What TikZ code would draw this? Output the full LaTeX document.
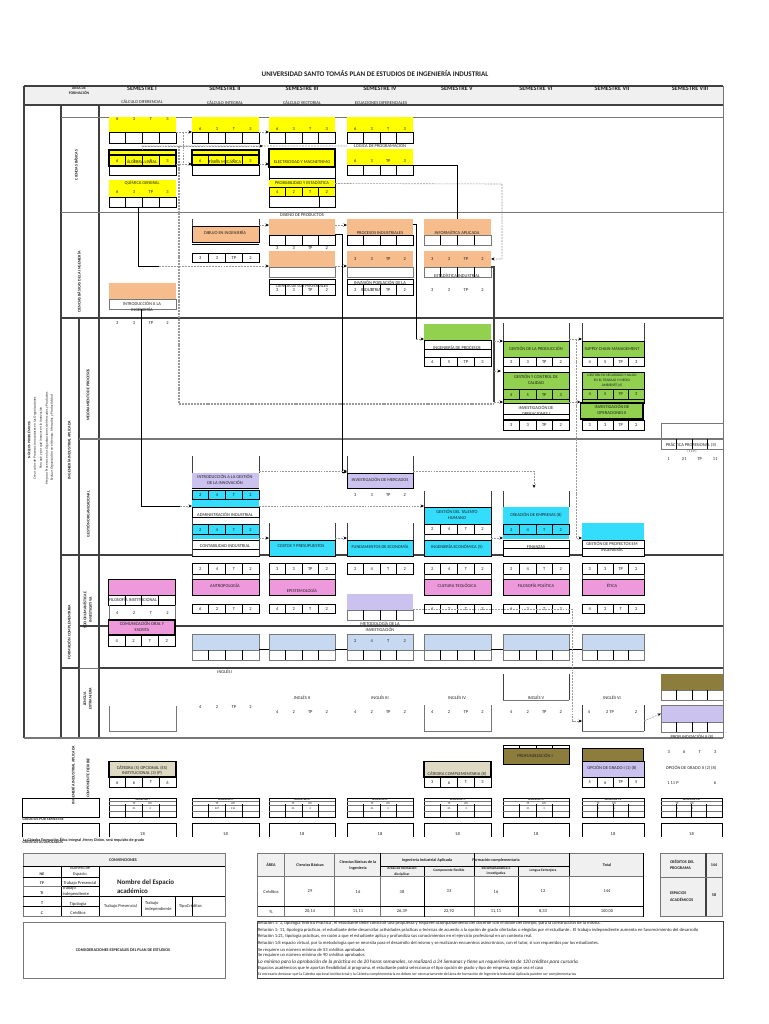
\documentclass[tikz,border=0pt]{standalone}
\usepackage{fontspec}
\setmainfont{Carlito}
\usetikzlibrary{arrows.meta,calc}
\definecolor{cyel}{HTML}{FFFF00}
\definecolor{cpea}{HTML}{F7BC8C}
\definecolor{cgre}{HTML}{92D050}
\definecolor{ccya}{HTML}{33DDFB}
\definecolor{cpin}{HTML}{EE99DC}
\definecolor{clil}{HTML}{CCC2F0}
\definecolor{cblu}{HTML}{C6D9F1}
\definecolor{coli}{HTML}{8C7D3C}
\definecolor{cbei}{HTML}{DDD9C3}
\definecolor{chea}{HTML}{F0F0F0}
\definecolor{txt}{HTML}{222222}
\definecolor{gln}{HTML}{777777}
\definecolor{dln}{HTML}{404040}
\definecolor{dsh}{HTML}{9A9A9A}
\tikzset{
 lbl/.style={inner sep=0pt,outer sep=0pt,align=center,text=txt,font=\fontsize{3.35}{4.4}\selectfont},
 lft/.style={lbl,anchor=west,align=left},
 boldl/.style={lbl,font=\fontsize{3.1}{4.4}\selectfont\bfseries},
 semt/.style={lbl,font=\fontsize{4.6}{5}\selectfont\bfseries},
 vert/.style={lbl,rotate=90,font=\fontsize{3}{4.2}\selectfont\bfseries},
 tiny/.style={lbl,font=\fontsize{2.2}{3}\selectfont},
 blk/.style={rectangle,draw=black,line width=0.55pt,inner sep=0pt,outer sep=0pt},
 gl/.style={line width=0.6pt,draw=gln},
 dl/.style={line width=1pt,draw=dln},
 sd/.style={line width=0.7pt,draw=dln},
 dc/.style={line width=0.45pt,draw=dsh,dashed,dash pattern=on 1.4pt off 0.8pt},
 dcx/.style={line width=0.9pt,draw=dsh,dashed,dash pattern=on 1.5pt off 0.7pt},
 bc/.style={line width=0.75pt,draw=black},
 tip/.style={-{Stealth[length=2.6pt,width=2.2pt,black]}},
}
\newcounter{nn}
\newcommand\lab[4][]{\stepcounter{nn}\node[lbl,#1] (n\thenn) at (#2,#3) {#4};}
\newcommand\blk[6][]{\node[blk,minimum width={(#5-#3)*0.75pt},minimum height={(#6-#4)*0.75pt},anchor=north west,#1] (#2) at (#3,#4) {};}
\newcommand\cellrow[5][]{\stepcounter{nn}\node[blk,minimum width={(#4-#2)*0.75pt},minimum height={(#5-#3)*0.75pt},anchor=north west,name=g\thenn,#1] at (#2,#3) {};
 \foreach \q in {0.25,0.5,0.75}{\draw[line width=0.55pt] ({#2+(#4-#2)*\q},#3) -- ({#2+(#4-#2)*\q},#5);}}
\newcommand\nums[8][]{\lab[#1]{{#2+(#3-#2)*0.125}}{#4}{#5}\lab[#1]{{#2+(#3-#2)*0.375}}{#4}{#6}\lab[#1]{{#2+(#3-#2)*0.625}}{#4}{#7}\lab[#1]{{#2+(#3-#2)*0.875}}{#4}{#8}}
\newcommand\gridn[9][]{\cellrow[#1]{#2}{#3}{#4}{#5}\nums{#2}{#4}{{(#3+#5)/2+0.5}}{#6}{#7}{#8}{#9}}
\newcommand\sides[5][]{\draw[sd,#1] (#2,#4) -- (#2,#5) (#3,#4) -- (#3,#5);}
\newcommand\sem[4]{%
 \cellsem{#1}{#2}
 \lab[tiny,font=\fontsize{2.2}{3}\selectfont\bfseries]{{(#1+#2)/2}}{800}{#3}
 \lab{{(#1+#2)/2}}{834}{18}}
\newcommand\cellsem[2]{%
 \stepcounter{nn}\node[blk,minimum width={(#2-#1)*0.75pt},minimum height={19*0.75pt},anchor=north west,name=g\thenn] at (#1,798) {};
 \draw[line width=0.35pt,gln] (#1,801.7) -- (#2,801.7) (#1,805) -- (#2,805) (#1,811) -- (#2,811);
 \draw[line width=0.55pt] ({#1+(#2-#1)*0.25},804) -- ({#1+(#2-#1)*0.25},817) ({#1+(#2-#1)*0.5},804) -- ({#1+(#2-#1)*0.5},817) ({#1+(#2-#1)*0.75},804) -- ({#1+(#2-#1)*0.75},817);
 \draw[line width=0.65pt] (#1,837) -- (#1,823) -- (#2,823) -- (#2,837);}
\begin{document}
\begin{tikzpicture}[x=0.75pt,y=-0.75pt]
\useasboundingbox (0,0) rectangle (768,1024);
\fill[white] (0,0) rectangle (768,1024);
% header
\fill[chea] (24,86) rectangle (723,105);
\draw[dl] (24,86) -- (723,86);
\draw[dl] (24,105) -- (723,105);
\draw[gl] (723,86) -- (723,738);
\draw[dl] (24,86) -- (24,738);
\draw[dl] (61,105) -- (61,738);
\draw[dl] (99,105) -- (99,738);
\draw[dl] (79,318) -- (79,738);
\draw[gl] (61,117) -- (723,117);
\draw[gl] (61,212) -- (723,212);
\draw[dl] (61,318) -- (723,318);
\draw[gl,line width=.9pt] (79,439) -- (723,439);
\draw[line width=1.5pt,dln] (61,555) -- (723,555);
\draw[dl] (79,626) -- (723,626);
\draw[dl] (61,668) -- (79,668) (99,668) -- (723,668);
\draw[gl] (79,668) -- (99,668);
\draw[gl,line width=.9pt] (24,738) -- (723,738);
\lab[font=\fontsize{5.3}{6}\selectfont\bfseries]{375}{74}{UNIVERSIDAD SANTO TOMÁS PLAN DE ESTUDIOS DE INGENIERÍA INDUSTRIAL}
\lab[boldl,font=\fontsize{2.9}{3.9}\selectfont\bfseries]{79}{90.5}{ÁREA DE\\FORMACIÓN}
\lab[semt]{142}{88.5}{SEMESTRE I}
\lab[semt]{225}{88.5}{SEMESTRE II}
\lab[semt]{302}{88.5}{SEMESTRE III}
\lab[semt]{380}{88.5}{SEMESTRE IV}
\lab[semt]{457}{88.5}{SEMESTRE V}
\lab[semt]{536}{88.5}{SEMESTRE VI}
\lab[semt]{612}{88.5}{SEMESTRE VII}
\lab[semt]{690}{88.5}{SEMESTRE VIII}
\lab{142}{102}{CÁLCULO DIFERENCIAL}
\lab{225}{103}{CÁLCULO INTEGRAL}
\lab{302}{103}{CÁLCULO VECTORIAL}
\lab{381}{103}{ECUACIONES DIFERENCIALES}
% Ciencias basicas row 1
\blk[fill=cyel,draw=none]{calcd}{109}{117}{176}{132}
\cellrow{109}{132}{176}{143}
\nums{109}{176}{119}{6}{3}{T}{3}
\blk[fill=cyel,draw=none]{calci}{192}{117}{259}{132}
\cellrow{192}{132}{259}{143}
\nums{192}{259}{129}{6}{3}{T}{3}
\blk[fill=cyel,draw=none]{calcv}{269}{117}{335}{132}
\cellrow{269}{132}{335}{143}
\nums{269}{335}{129}{6}{3}{T}{3}
\blk[fill=cyel,draw=none]{ecua}{347}{117}{413}{132}
\cellrow{347}{132}{413}{143}
\nums{347}{413}{129}{6}{3}{T}{3}
\lab{380}{145.7}{LÓGICA DE PROGRAMACIÓN}
% row 2
\blk[fill=white]{algw}{109}{150}{176}{175}
\blk[fill=cyel,line width=.8pt]{alg}{109}{150}{176}{166}
\cellrow[line width=.8pt,fill=cyel]{109}{155}{176}{166}
\nums{109}{176}{161}{6}{3}{T}{3}
\lab{142}{162}{ÁLGEBRA LINEAL}
\blk[fill=white]{fisw}{192}{150}{259}{175}
\blk[fill=cyel,line width=.8pt]{fis}{192}{150}{259}{165}
\cellrow[line width=.8pt,fill=cyel]{192}{155}{259}{165}
\nums{192}{259}{161}{6}{3}{T}{3}
\lab{225}{162}{FÍSICA MECÁNICA}
\blk[fill=white]{elw}{269}{149}{335}{178}
\blk[fill=cyel,line width=.8pt]{elec}{269}{149}{335}{167}
\lab{302}{162.5}{ELECTRICIDAD Y MAGNETISMO}
\blk[fill=cyel,draw=none]{logi}{347}{149}{413}{165}
\cellrow{347}{165}{413}{175}
\nums{347}{413}{161}{6}{3}{TP}{3}
% row 3
\blk[fill=cyel,draw=none]{quim}{109}{180}{176}{197}
\cellrow[name=qg]{109}{197}{176}{207}
\lab{142}{183}{QUÍMICA GENERAL}
\nums{109}{176}{192}{6}{3}{TP}{3}
\blk[fill=white]{prbw}{269}{178}{335}{207}
\blk[fill=cyel,draw=none]{prob}{269}{180}{335}{187}
\cellrow[fill=cyel,line width=.7pt]{269}{187}{335}{196}
\draw[line width=.55pt] (319,196) -- (319,207);
\lab{302}{183}{PROBABILIDAD Y ESTADÍSTICA}
\nums{269}{335}{192}{4}{2}{T}{2}
% Ciencias basicas de la ingenieria
\blk[fill=cpea,draw=none]{intro}{109}{283}{176}{299}
\blk[fill=white,draw=gln]{introg}{109}{299}{176}{309}
\lab{142}{307}{INTRODUCCIÓN A LA\\INGENIERÍA}
\nums{109}{176}{323}{3}{3}{TP}{2}
\sides{192}{259}{219}{226}
\blk[fill=cpea,line width=.7pt]{dib}{192}{226}{259}{242}
\draw[line width=.55pt] (192,244) -- (259,244);
\lab{225}{233}{DIBUJO EN INGENIERÍA}
\gridn{192}{253}{259}{262}{3}{3}{TP}{2}
\lab{302}{215}{DISEÑO DE PRODUCTOS}
\blk[fill=cpea,draw=none]{dis}{269}{219}{335}{235}
\cellrow{269}{235}{335}{245}
\nums{269}{335}{248.5}{3}{3}{TP}{2}
\blk[fill=white,draw=gln]{ciew}{269}{267}{335}{277}
\blk[fill=cpea,draw=none]{cie}{269}{250.5}{335}{267}
\blk[fill=white]{cier}{269}{279}{335}{295}
\cellrow{269}{284}{335}{295}
\lab{302}{286.5}{CIENCIA DE LOS MATERIALES}
\nums{269}{335}{290}{3}{3}{TP}{2}
\blk[fill=cpea,draw=none]{pro}{347}{219}{413}{235}
\cellrow{347}{235}{413}{245}
\lab{380}{233}{PROCESOS INDUSTRIALES}
\blk[fill=white,draw=gln]{modw}{347}{267}{413}{277}
\blk[fill=cpea,draw=none]{mod}{347}{250.5}{413}{267}
\nums{347}{413}{259}{3}{3}{TP}{2}
\blk[fill=white]{modr}{347}{279}{413}{295}
\cellrow{347}{284}{413}{295}
\lab{380}{282.5}{INVASIÓN POBLACIÓN DE LA}
\nums{347}{413}{290}{3}{3}{TP}{2}
\lab{371}{290}{INDUSTRIA}
\blk[fill=cpea,draw=none]{info}{424}{219}{491}{235}
\cellrow[draw=gln]{424}{235}{491}{245}
\lab{457}{232.5}{INFORMÁTICA APLICADA}
\blk[fill=cpea,draw=none]{est}{424}{251}{491}{267}
\nums{424}{491}{259}{3}{3}{TP}{2}
\cellrow[draw=gln,name=estg]{424}{267}{491}{277}
\lab{457}{275.5}{ESTADÍSTICA INDUSTRIAL}
\nums{424}{491}{290}{3}{3}{TP}{2}
% Mejoramiento de procesos
\blk[fill=cgre,draw=none]{ingp}{424}{324}{491}{340}
\blk[fill=white]{ingw}{424}{340}{491}{357}
\draw[line width=.55pt] (424,349) -- (491,349);
\lab{457}{348}{INGENIERÍA DE PROCESOS}
\gridn{424}{357}{491}{366}{4}{5}{TP}{3}
\sides{503}{569}{323}{341}
\blk[fill=cgre,line width=.7pt]{gprod}{503}{341}{569}{357}
\lab{536}{349}{GESTIÓN DE LA PRODUCCIÓN}
\gridn{503}{357}{569}{366}{3}{3}{TP}{2}
\draw[line width=.55pt] (503,366) -- (503,372) (569,366) -- (569,372);
\blk[fill=cgre,line width=.7pt]{gcal}{503}{372}{569}{403}
\lab{536}{380}{GESTIÓN Y CONTROL DE\\CALIDAD}
\cellrow[fill=cgre,line width=.7pt]{503}{389}{569}{399}
\nums{503}{569}{395}{4}{5}{TP}{3}
\blk[fill=white,line width=.7pt]{inv1}{503}{403}{569}{419}
\draw[line width=.55pt] (503,414) -- (569,414);
\lab{536}{410.5}{INVESTIGACIÓN DE\\OPERACIONES I}
\gridn{503}{420}{569}{430}{3}{3}{TP}{2}
\sides{582}{644}{323}{341}
\blk[fill=cgre,draw=black]{scm}{582}{341}{644}{357}
\lab{612}{349}{SUPPLY CHAIN MANAGEMENT}
\gridn{582}{357}{644}{366}{4}{5}{TP}{3}
\blk[fill=cgre,line width=.7pt]{seg}{582}{372}{644}{403}
\lab[font=\fontsize{2.7}{3.9}\selectfont]{612}{380}{GESTIÓN EN SEGURIDAD Y SALUD\\EN EL TRABAJO Y MEDIO\\AMBIENTE (6)}
\gridn{582}{389}{644}{399}{4}{5}{TP}{3}
\blk[fill=cgre,line width=.8pt]{inv2}{580.5}{403}{643}{419}
\lab{612}{410}{INVESTIGACIÓN DE\\OPERACIONES II}
\gridn{582}{420}{644}{430}{3}{3}{TP}{2}
\draw[line width=.4pt,gln] (723,423) -- (661,423) -- (661,449) -- (723,449);
\cellrow[draw=gln]{661}{439}{723}{449}
\lab{691}{445}{PRÁCTICA PROFESIONAL (II)}
\lab[tiny]{692}{451.5}{( 1 C P )}
\nums{661}{723}{459}{1}{21}{TP}{11}
% Gestion organizacional
\sides{192}{259}{456}{473}
\blk[fill=clil,draw=none]{inno}{192}{473}{259}{488}
\lab{225}{480}{INTRODUCCIÓN A LA GESTIÓN\\DE LA INNOVACIÓN}
\blk[fill=ccya,draw=none]{innc}{192}{490}{259}{507}
\cellrow[line width=.7pt,fill=ccya]{192}{490}{259}{499}
\nums{192}{259}{495.5}{2}{4}{T}{2}
\draw[line width=.55pt] (192,488) -- (259,488);
\blk[fill=white,draw=black]{admw}{192}{507}{259}{517.5}
\lab{225}{515}{ADMINISTRACIÓN INDUSTRIAL}
\blk[fill=ccya,draw=none]{admc}{192}{524}{259}{539}
\cellrow[line width=.7pt,fill=ccya]{192}{524}{259}{534}
\nums{192}{259}{530.5}{2}{4}{T}{2}
\blk[fill=white,line width=.7pt]{cont}{192}{540}{259}{556}
\draw[line width=.55pt] (192,549) -- (259,549);
\lab{225}{546.5}{CONTABILIDAD INDUSTRIAL}
\sides{192}{192}{517.5}{556}
\sides{259}{259}{517.5}{556}
\sides{269}{335}{523}{540}
\blk[fill=ccya,line width=.7pt]{cost}{269}{540}{335}{556}
\lab{301}{546.5}{COSTOS Y PRESUPUESTOS}
\sides{347}{413}{456}{473}
\blk[fill=clil,line width=.55pt]{merc}{347}{473}{413}{488}
\lab{380}{480}{INVESTIGACIÓN DE MERCADOS}
\nums{347}{413}{495}{3}{3}{TP}{2}
\sides{347}{413}{523}{540}
\blk[fill=ccya,line width=.7pt]{fund}{347}{540}{413}{556}
\lab{380}{546.5}{FUNDAMENTOS DE ECONOMÍA}
\sides{424}{491}{491}{507}
\blk[fill=ccya,line width=.55pt]{tal}{424}{507}{491}{524}
\lab{457}{515}{GESTIÓN DEL TALENTO\\HUMANO}
\gridn{424}{524}{491}{534}{2}{4}{T}{2}
\sides{424}{491}{534}{540}
\blk[fill=ccya,line width=.7pt]{ingec}{424}{540}{491}{556}
\lab{457}{546.5}{INGENIERÍA ECONÓMICA (5)}
\sides{503}{569}{491}{507}
\blk[fill=ccya,draw=none]{crea}{503}{507}{569}{539}
\lab{536}{515}{CREACIÓN DE EMPRESAS (8)}
\cellrow[fill=ccya,line width=.7pt]{503}{524}{569}{534}
\nums{503}{569}{530.5}{2}{4}{T}{2}
\blk[fill=white,line width=.7pt]{fin}{503}{540}{569}{556}
\draw[line width=.55pt] (503,548) -- (569,548);
\lab{536}{547}{FINANZAS}
\blk[fill=ccya,draw=none]{gpc}{582}{522.5}{644}{540}
\blk[fill=white,line width=.55pt]{gpro}{582}{540}{644}{556}
\draw[line width=.55pt] (582,548) -- (644,548);
\lab{612}{547}{GESTIÓN DE PROYECTOS EM\\INGENIERÍA}
% Sociohumanistica grids
\gridn{192}{563}{259}{574}{2}{4}{T}{2}
\gridn{269}{563}{335}{574}{3}{3}{TP}{2}
\gridn{347}{563}{413}{574}{2}{4}{T}{2}
\gridn{424}{563}{491}{574}{2}{4}{T}{2}
\gridn{503}{563}{569}{574}{2}{4}{T}{2}
\gridn{582}{563}{644}{574}{3}{3}{TP}{2}
\sides{192}{259}{574}{579}
\sides{269}{335}{574}{579}
\sides{424}{491}{574}{579}
\sides{503}{569}{574}{579}
\sides{582}{644}{574}{579}
\blk[fill=cpin,line width=.7pt]{antro}{192}{579}{259}{595}
\lab{225}{585.5}{ANTROPOLOGÍA}
\blk[fill=cpin,line width=.7pt]{epi}{269}{579}{335}{595}
\lab{302}{591}{EPISTEMOLOGÍA}
\blk[fill=cpin,line width=.7pt]{cult}{424}{579}{491}{595}
\lab{457}{585.5}{CULTURA TEOLÓGICA}
\blk[fill=cpin,line width=.7pt]{filo}{503}{579}{569}{595}
\lab{536}{585.5}{FILOSOFÍA POLÍTICA}
\blk[fill=cpin,line width=.7pt]{etica}{582}{579}{644}{595}
\lab{612}{585.5}{ÉTICA}
\gridn{192}{604}{259}{613}{6}{2}{T}{2}
\gridn{269}{604}{335}{613}{4}{2}{T}{2}
\gridn{424}{604}{491}{613}{6}{2}{T}{2}
\gridn{503}{604}{569}{613}{6}{2}{T}{2}
\gridn{582}{604}{644}{613}{4}{2}{T}{2}
\blk[fill=clil,draw=none]{met}{347}{594}{413}{610}
\cellrow[draw=gln,name=metg]{347}{610}{413}{620}
\lab{380}{626.5}{METODOLOGÍA DE LA\\INVESTIGACIÓN}
\blk[fill=cpin,line width=.7pt]{filin}{108.5}{579}{175}{595}
\cellrow{108.5}{595}{175}{605}
\lab{133}{600}{FILOSOFÍA INSTITUCIONAL}
\draw[line width=.35pt,gln] (109,605) -- (109,620) (175,605) -- (175,620);
\nums{109}{176}{613}{4}{2}{T}{2}
\blk[fill=cpin,line width=.8pt]{com}{108.5}{620}{175}{635}
\lab{142}{626.5}{COMUNICACIÓN ORAL Y\\ESCRITA}
\gridn{108.5}{635}{175}{646}{4}{2}{T}{2}
% blue row
\foreach \xa/\xb/\nm in {192/259/b2,269/335/b3,347/413/b4,424/491/b5,503/569/b6,582/644/b7}{
 \blk[fill=cblu,draw=gln]{\nm}{\xa}{634}{\xb}{650}
 \cellrow[draw=gln]{\xa}{650}{\xb}{660}
}
\nums{347}{413}{641}{2}{4}{T}{2}
\draw[bc] (b2.south east) ++(0,-1) -- (b3.south west |- 0,649);
\draw[bc] (b3.south east) ++(0,-1) -- (b4.south west |- 0,649);
\draw[gl,line width=.35pt] (b4.south east) -- (b5.south west);
\draw[bc] (b5.south east) ++(0,-1) -- (b6.south west |- 0,649);
\draw[bc] (b6.south east) ++(0,-1) -- (b7.south west |- 0,649);
% Lengua extranjera
\draw[gl] (109,706) -- (109,731) -- (176,731) -- (176,706);
\lab{225}{672}{INGLÉS I}
\nums{192}{259}{707.5}{4}{2}{TP}{2}
\lab{302}{698}{INGLÉS II}
\nums{269}{335}{712.5}{4}{2}{TP}{2}
\lab{380}{698}{INGLÉS III}
\nums{347}{413}{712.5}{4}{2}{TP}{2}
\lab{457}{698}{INGLÉS IV}
\draw[gl] (424,705) -- (424,731) -- (491,731) -- (491,705);
\nums{424}{491}{712.5}{4}{2}{TP}{2}
\draw[sd] (503,674) -- (503,700) (569,674) -- (569,700);
\draw[gl] (503,700) -- (569,700);
\lab{536}{698}{INGLÉS V}
\nums{503}{569}{712.5}{4}{2}{TP}{2}
\lab{612}{698}{INGLÉS VI}
\coordinate (in6w) at (582,721);
\draw[sd] (582,705) -- (582,731);
\draw[sd] (644,705) -- (644,731);
\draw[gl] (582,731) -- (644,731);
\lab{589}{712.5}{4}
\lab{610}{712.5}{2 TP}
\lab{636}{712.5}{2}
\blk[fill=coli,draw=none]{p2}{661}{674}{723}{690}
\cellrow[draw=gln]{661}{690}{723}{700}
\blk[fill=clil,draw=gln]{o2}{661}{705}{723}{722}
\cellrow[draw=gln]{661}{722}{723}{732}
\lab{692}{737}{PROFUNDIZACIÓN II (8)}
\nums{661}{723}{752}{3}{6}{T}{3}
\lab{691}{768}{OPCIÓN DE GRADO II (2) (8)}
\lab{673}{783}{1 11 P}
\lab{715}{783}{6}
% Flexible row
\cellrow{503}{745}{569}{748}
\blk[fill=coli,line width=.7pt]{pf1}{503}{748}{569}{764}
\lab{535}{756}{PROFUNDIZACIÓN I}
\blk[fill=coli,line width=.55pt]{og1t}{582}{748}{643}{761}
\blk[fill=clil,line width=.7pt]{og1}{582}{761}{644}{777}
\lab{612}{768}{OPCIÓN DE GRADO I (1) (8)}
\gridn{582}{777}{644}{787}{5}{6}{TP}{5}
\blk[fill=cbei,line width=.8pt]{cat}{109}{761.5}{176}{777}
\lab{142}{770.5}{CÁTEDRA (S) OPCIONAL (ES)\\INSTITUCIONAL (3) (P)}
\gridn{109}{777}{176}{787}{6}{6}{T}{6}
\blk[fill=cbei,line width=.8pt]{catc}{424}{761.5}{491}{777}
\lab{457}{773.5}{CÁTEDRA COMPLEMENTARIA (8)}
\gridn{424}{777}{491}{787}{3}{6}{T}{3}
% Semester totals
\draw[line width=.65pt] (22.5,798) rectangle (99,817);
\draw[line width=.65pt] (22.5,837) -- (22.5,823) -- (99,823) -- (99,837);
\lab[lft,font=\fontsize{2.9}{3.9}\selectfont\bfseries]{22.5}{818.5}{CRÉDITOS POR SEMESTRE}
\sem{109}{176}{SEMESTRE I}{}
\sem{192}{259}{SEMESTRE II}{}
\sem{269}{335}{SEMESTRE III}{}
\sem{347}{413}{SEMESTRE IV}{}
\sem{424}{491}{SEMESTRE V}{}
\sem{503}{569}{SEMESTRE VI}{}
\sem{582}{644}{SEMESTRE VII}{}
\sem{661}{722}{SEMESTRE VIII}{}
\foreach \xx/\xy/\a/\b/\c in {134/150/21/3/18, 217/233/327/113/, 293/310/21/3/18,372/388/21/3/18,449/466/21/3/18,528/544/21/3/18,598/614/3/6/6,677/692/5/8/5}{
 \lab[tiny]{\xx}{803.5}{TP}
 \lab[tiny]{\xy}{803.5}{HTI}
 \lab[tiny]{\xx}{808.5}{\a}
 \lab[tiny]{\xy}{808.5}{\b}
}
\lab[lft,font=\fontsize{3}{4}\selectfont\bfseries]{23}{840}{La Cátedra Formación Ética Integral ,Henry Didón, será requisito de grado}
\lab[lft,font=\fontsize{2.9}{3.9}\selectfont\bfseries]{22.5}{841.5}{CRÉDITOS ACUMULADOS}
% Left vertical labels
\lab[vert]{76}{165}{CIENCIAS BÁSICAS}
\lab[vert]{79}{282}{CIENCIAS BÁSICAS DE LA INGENIERÍA}
\lab[vert]{88}{395}{MEJORAMIENTO DE PROCESOS}
\lab[vert]{88}{514}{GESTIÓN ORGANIZACIONAL}
\lab[vert]{69}{450}{INGENIERÍA INDUSTRIAL APLICADA}
\lab[vert]{87.5}{610}{SOCIOHUMANÍSTICA E\\INVESTIGATIVA}
\lab[vert]{69}{632}{FORMACIÓN COMPLEMENTARIA}
\lab[vert]{87.5}{699}{LENGUA\\EXTRANJERA}
\lab[vert]{73}{775}{INGENIERÍA INDUSTRIAL APLICADA}
\lab[vert]{88}{778}{COMPONENTE FLEXIBLE}
\lab[vert,font=\fontsize{2.7}{3.5}\selectfont\bfseries]{29}{440}{NÚCLEOS PROBLÉMICOS}
\lab[rotate=90,font=\fontsize{2.6}{3.5}\selectfont]{35}{438}{Crear valor de Procesos Innovadores en las Organizaciones}
\lab[rotate=90,font=\fontsize{2.6}{3.5}\selectfont]{41}{438}{Para qué y por qué innovar en la Innovación}
\lab[rotate=90,font=\fontsize{2.6}{3.5}\selectfont]{47}{438}{Mejorar Procesos en las Organizaciones de Mercados y Productos}
\lab[rotate=90,font=\fontsize{2.6}{3.5}\selectfont]{52}{438}{Evaluar Organización en el tiempo, Mercados y Productividad}
% Connectors
\draw[dc,tip] (calcd.south east) -- (calci.south west);
\draw[dc,tip] (calci.south east) -- (calcv.south west);
\draw[dc,tip] (alg.south east) ++(0,-2) -- (fis.south west |- 0,164);
\draw[dc,tip] (fis.south east) ++(0,-1) -- (elec.south west |- 0,164);
\coordinate (v1) at (183,132);\coordinate (v2) at (183,164);
\draw[dc] (v1) -- (v2);
\coordinate (lg) at (142,146);
\draw[dc] (alg.north) -- (lg) -- (lg -| ecua.west);
\coordinate (lt) at (263,146);
\draw[dc,tip] (lg) -- (lt);
\coordinate (g1) at (179,146);\coordinate (g2) at (179,404);\coordinate (g3) at (494,404);
\draw[dcx] (g1) -- (g2) -- (g3);
\coordinate (k0) at (138,207);\coordinate (k1) at (138,266);\coordinate (k2) at (159,266);
\draw[bc] (k0) -- (k1) -- (k2);
\draw[dc,tip] (k2) -- (k2 -| cie.west);
\draw[dc,tip] (k2 -| cie.east) -- (k2 -| mod.west);
\coordinate (k3) at (141.5,309);\coordinate (k4) at (141.5,506);\coordinate (k5) at (180,506);
\draw[bc] (k3) -- (k4) -- (k5);
\draw[dc,tip] (k5) -- (k5 -| innc.west);
\draw[dc,tip] (k5 -| innc.east) -- (k5 -| tal.west);
\draw[dc,tip] (dib.north east) ++(0,-1) -- (dis.west |- 0,225);
\draw[dc,tip] (dis.east |- 0,225) -- (pro.west |- 0,225);
\coordinate (l0) at (335,234);\coordinate (l1) at (342,234);\coordinate (l2) at (342,472);
\draw[bc,tip] (l0) -- (l1) -- (l2) -- (merc.north west |- l2);
\coordinate (m1) at (416,224);\coordinate (m2) at (416,339);
\draw[bc] (pro.east |- m1) -- (m1) -- (m2);
\draw[dc,tip] (m2) -- (ingp.west |- m2);
\draw[bc] (logi.south east) -- (logi.south east -| info.north) -- (info.north);
\coordinate (pe) at (502,184);\coordinate (pf) at (502,259);
\draw[dc,tip] (prob.east) -- (pe) -- (pf) -- (est.east);
\coordinate (q0) at (494,267);\coordinate (q1) at (494,402);
\draw[bc,line width=.9pt,dln] (est.south east) -- (q0) -- (q1);
\draw[dc,tip] (q1) -- (inv1.north west |- q1);
\draw[dc,tip] (q0 |- gprod.north) -- (gprod.north west);
\coordinate (q2) at (494,371);\coordinate (q3) at (501,371);
\draw[dc,tip] (q2) -- (q3);
\coordinate (r1) at (576.5,339);\coordinate (r2) at (576.5,538);
\draw[dc,tip] (gprod.north east |- r1) -- (scm.north west |- r1);
\draw[dcx,line width=.6pt] (r1) -- (r2);
\draw[dc,tip] (r2) -- (gpc.west |- r2);
\draw[dc,tip] (inv1.north east |- 0,402) -- (inv2.north west |- 0,402);
\coordinate (s1) at (259,471);
\draw[dc,tip] (s1) -- (merc.north west |- s1);
\coordinate (s2) at (413,471);\coordinate (s3) at (534,471);\coordinate (s4) at (534,488);
\draw[dc,tip] (s2) -- (s3) -- (s4);
\draw[dc,tip] (cost.north east |- 0,538) -- (fund.north west |- 0,538);
\draw[dc,tip] (cont.north east |- 0,538) -- (cost.north west |- 0,538);
\draw[dc,tip] (tal.east |- 0,538) -- (fin.north west |- 0,538);
\coordinate (u1) at (413,609);\coordinate (u2) at (572.5,609);\coordinate (u3) at (572.5,721);
\draw[dc,tip] (u1) -- (u2) -- (u3) -- (in6w);
\coordinate (u4) at (644,721);
\draw[dc,tip] (u4) -- (o2.west);
% Conventions
\fill[chea] (23,853) rectangle (225,866);
\draw[line width=.55pt,gln] (23,853) rectangle (225,916);
\draw[line width=.55pt] (23,866) -- (225,866);
\lab[boldl]{123}{860}{CONVENCIONES}
\draw[line width=.55pt] (61.5,866) -- (61.5,916) (99,866) -- (99,916);
\draw[line width=.55pt] (23,877) -- (99,877);
\draw[line width=.4pt,gln] (23,886.7) -- (61.5,886.7);
\draw[line width=.55pt] (61.5,886.7) -- (99,886.7) (23,896) -- (225,896);
\draw[line width=.55pt] (23,906) -- (99,906);
\draw[line width=.55pt] (141.5,896) -- (141.5,916) (175,896) -- (175,916) (192,896) -- (192,916);
\lab[font=\fontsize{3}{4}\selectfont\bfseries]{42}{874}{NE}
\lab[font=\fontsize{3}{4}\selectfont\bfseries]{42}{883}{TP}
\lab[font=\fontsize{3}{4}\selectfont\bfseries]{42}{893}{TI}
\lab[font=\fontsize{3}{4}\selectfont\bfseries]{42}{903}{T}
\lab[font=\fontsize{3}{4}\selectfont\bfseries]{42}{913}{C}
\lab{80}{871.5}{Número de\\Espacio}
\lab{80}{883}{Trabajo Presencial}
\lab[lft]{62.5}{891.5}{Trabajo\\Independiente}
\lab{78}{904}{Tipología}
\lab{78}{913}{Créditos}
\lab[lft,font=\fontsize{5.2}{6.6}\selectfont\bfseries]{117}{886.5}{Nombre del Espacio\\académico}
\lab[lft]{104}{906}{Trabajo Presencial}
\lab[lft]{145}{906}{Trabajo\\Independiente}
\lab[lft]{179}{906}{TipoCréditos}
\draw[line width=.55pt,gln] (23,922) rectangle (225,978);
\lab[boldl]{123}{950}{CONSIDERACIONES ESPECIALES DEL PLAN DE ESTUDIOS}
% Areas table
\fill[chea] (257.5,853) rectangle (643,876.5);
\draw[line width=.6pt,gln] (257.5,853) -- (643,853);
\draw[line width=.6pt] (643,853) -- (643,916.5);
\draw[line width=.6pt,gln] (257.5,853) -- (257.5,916.5) -- (643,916.5);
\foreach \xx in {284.7,334.7,380,474,569}{\draw[line width=.5pt,gln] (\xx,853) -- (\xx,916.5);}
\draw[line width=.6pt] (380,853) -- (380,876.5) (474,853) -- (474,876.5) (569,853) -- (569,876.5) (424,866) -- (424,916.5) (518,866) -- (518,916.5);
\draw[line width=.6pt] (380,866) -- (569,866);
\draw[line width=.5pt,gln] (257.5,876.5) -- (643,876.5);
\draw[line width=.6pt] (257.5,906.5) -- (643,906.5);
\lab[boldl]{271}{865}{ÁREA}
\lab[boldl]{310}{865}{Ciencias Básicas}
\lab[boldl]{358}{865.5}{Ciencias Básicas de la\\Ingeniería}
\lab[boldl]{427}{860}{Ingeniería Industrial Aplicada}
\lab[boldl]{496}{860}{Formación complementaria}
\lab[boldl]{607}{865}{Total}
\lab[boldl,font=\fontsize{2.7}{4.4}\selectfont\bfseries]{402}{871}{Áreas de formación\\disciplinar}
\lab[boldl,font=\fontsize{2.7}{4.4}\selectfont\bfseries]{449}{871}{Componente flexible}
\lab[boldl,font=\fontsize{2.7}{4.4}\selectfont\bfseries]{496}{871}{Sociohumanística e\\investigativa}
\lab[boldl,font=\fontsize{2.7}{4.4}\selectfont\bfseries]{543}{871}{Lengua Extranjera}
\foreach \xx/\aa/\bb in {271/Créditos/\%,310/29/20{,}14,358/16/11{,}11,402/38/26{,}39,449/33/22{,}92,496/16/11{,}11,543/12/8{,}33,607/144/100{,}00}{
 \lab{\xx}{891.5}{\aa}
 \lab{\xx}{911.5}{\bb}
}
% Credits table
\fill[chea] (660,853) rectangle (722.5,916);
\draw[line width=.6pt,gln] (660,853) rectangle (722.5,916);
\draw[line width=.8pt,dln] (706,853) -- (706,916);
\draw[line width=.5pt,gln] (660,877) -- (722.5,877);
\lab[lft,font=\fontsize{3.1}{4.6}\selectfont\bfseries]{670}{865}{CRÉDITOS DEL\\PROGRAMA}
\lab[boldl]{714}{865}{144}
\lab[lft,font=\fontsize{3.1}{5.4}\selectfont\bfseries]{670}{896.5}{ESPACIOS\\ACADÉMICOS}
\lab[boldl]{714}{895}{58}
% Notes
\draw[line width=.6pt,dln] (257,921) rectangle (723,978);
\lab[lft,font=\fontsize{3.45}{4}\selectfont]{258}{923.5}{Relación 1: 3, tipología Teórico Práctica , el estudiante debe construir una propuesta y requiere acompañamiento del docente con el doble del tiempo, para la construcción de la misma.}
\lab[lft,font=\fontsize{3.45}{4}\selectfont]{258}{930}{Relación 1: 11, tipología prácticas, el estudiante debe desarrollar actividades prácticas o teóricas de acuerdo a la opción de grado ofertadas o elegidas por el estudiante.. El trabajo independiente aumenta en favorecimiento del desarrollo}
\lab[lft,font=\fontsize{3.45}{4}\selectfont]{258}{936.5}{Relación 1:21, tipología prácticas, en razón a que el estudiante aplica y profundiza sus conocimientos en el ejercicio profesional en un contexto real.}
\lab[lft,font=\fontsize{3.45}{4}\selectfont]{258}{943}{Relación 1:8 espacio virtual, por la metodología que se necesita para el desarrollo del mismo y se realizarán encuentros asincrónicos, con el tutor, si son requeridos por los estudiantes.}
\lab[lft,font=\fontsize{3.45}{4}\selectfont]{258}{950}{Se requiere un número mínimo de 53 créditos aprobados}
\lab[lft,font=\fontsize{3.45}{4}\selectfont]{258}{955.5}{Se requiere un número mínimo de 90 créditos aprobados}
\lab[lft,font=\fontsize{3.9}{5}\selectfont\itshape]{258}{962}{Lo mínimo para la aprobación de la práctica es de 20 horas semanales, se realizará a 24 Semanas y tiene un requerimiento de 120 créditos para cursarla.}
\lab[lft,font=\fontsize{3.45}{4}\selectfont]{258}{968.7}{Espacios académicos que le aportan flexibilidad al programa, el estudiante podrá seleccionar el tipo opción de grado y tipo de empresa, según sea el caso}
\lab[lft,font=\fontsize{2.9}{3.5}\selectfont]{258}{974.3}{Es necesario destacar que la Cátedra opcional institucional y la Cátedra complementaria no deben ser necesariamente del área de formación de Ingeniería Industrial Aplicada pueden ser complementarias}
\end{tikzpicture}
\end{document}
